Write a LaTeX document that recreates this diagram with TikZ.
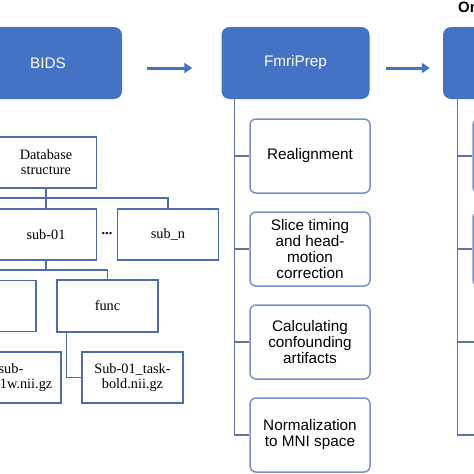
\documentclass[tikz,border=0pt]{standalone}
\usepackage{fontspec}
\setmainfont{Liberation Serif}
\setsansfont{Liberation Sans}
\definecolor{headblue}{HTML}{4472C4}
\definecolor{treeblue}{HTML}{4D6CB0}
\definecolor{stepblue}{HTML}{7A90C6}
\definecolor{linkgray}{HTML}{6273A0}
\usepackage{tikz}
\usetikzlibrary{arrows.meta}

\tikzset{
  headbox/.style={fill=headblue,rounded corners=8pt,minimum width=148pt,minimum height=72pt,
    text=white,font=\sffamily\fontsize{15.3}{16}\selectfont},
  treebox/.style={draw=treeblue,line width=1.3pt,minimum width=101pt,minimum height=51pt,
    inner sep=0pt,align=center,font=\fontsize{14.3}{15}\selectfont},
  stepbox/.style={draw=stepblue,line width=1.5pt,rounded corners=6pt,minimum width=120pt,
    minimum height=74pt,inner sep=0pt,align=center,font=\sffamily\fontsize{15.3}{16}\selectfont},
  treelink/.style={draw=treeblue,line width=1.3pt},
  link/.style={draw=linkgray,line width=1.3pt},
  flow/.style={headblue,line width=3pt,-{Triangle[length=8pt,width=10pt]}}
}

\begin{document}
\begin{tikzpicture}[x=1pt,y=-1pt]
  \useasboundingbox (0,0) rectangle (474,474);
  \clip (0,0) rectangle (474,474);

  % pipeline stages
  \node[headbox] (bids) at (48,63) {BIDS};
  \node[headbox] (fmri) at (295.5,63) {FmriPrep};
  \node[headbox] (post) at (517,63) {};
  \node[anchor=west,inner sep=0pt,font=\sffamily\bfseries\fontsize{15}{16}\selectfont] (postlabel) at (458,7) {Or};
  \draw[flow] ([shift={(25,5)}]bids.east) -- ([shift={(-29,5)}]fmri.west);
  \draw[flow] ([shift={(16,5)}]fmri.east) -- ([shift={(-13,5)}]post.west);

  % BIDS tree
  \node[treebox] (db) at (46,162.5) {Database\\structure};
  \node[treebox] (sub1) at (46,234.5) {sub-01};
  \node[treebox] (subn) at (168,234.5) {sub\_n};
  \node[inner sep=0pt,font=\fontsize{14.3}{15}\selectfont\bfseries] (dots) at (107,234) {...};
  \node[treebox,minimum width=100pt] (anat) at (-14,306) {};
  \node[treebox,minimum height=52pt] (func) at (107.5,306) {func};
  \node[treebox,minimum width=100pt] (anatfile) at (11,377.5) {sub-\\01\_T1w.nii.gz};
  \node[treebox] (funcfile) at (132.5,377.5) {Sub-01\_task-\\bold.nii.gz};
  \coordinate (dbleft) at (-20,198);
  \draw[treelink] (db.south) -- (sub1.north);
  \draw[treelink] (dbleft) -| (subn.north);
  \draw[treelink] (sub1.south) -- ++(0,10);
  \draw[treelink] (anat.north) -- ++(0,-10) -| (func.north);
  \draw[treelink] ([xshift=10pt]func.south west) |- (funcfile.west);

  % FmriPrep steps
  \foreach \name/\ypos/\txt in {s1/156/Realignment,
      s2/249/{Slice timing\\and head-\\motion\\correction},
      s3/342/{Calculating\\confounding\\artifacts},
      s4/435/{Normalization\\to MNI space}}{
    \node[stepbox] (\name) at (310,\ypos) {\txt};
  }
  \draw[link] ([xshift=13pt]fmri.south west) |- (s4.west);
  \foreach \name in {s1,s2,s3}
    \draw[link] (\name.west) -- +(-15,0);

  % next stage
  \node[stepbox] (r1) at (533,156) {};
  \node[stepbox] (r2) at (533,249) {};
  \coordinate (r3) at (478,342);
  \coordinate (r4) at (478,435);
  \draw[link] ([xshift=15pt]post.south west) |- (r4);
  \foreach \name in {r1,r2}
    \draw[link] (\name.west) -- +(-15,0);
  \draw[link] (r3) -- +(-20,0);
\end{tikzpicture}
\end{document}
